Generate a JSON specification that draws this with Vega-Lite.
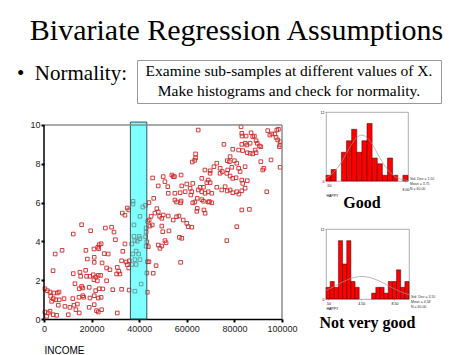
{
  "$schema": "https://vega.github.io/schema/vega-lite/v6.json",
  "background": "white",
  "padding": {"left": 17, "top": 0, "right": 0, "bottom": 0},
  "config": {"view": {"stroke": null}, "font": "Liberation Serif"},
  "datasets": {
    "scatter": [
      {"income":45650,"happy":7.27},{"income":46100,"happy":6.22},{"income":44100,"happy":6.00},{"income":42600,"happy":5.86},{"income":41500,"happy":5.77},{"income":37400,"happy":6.07},{"income":37400,"happy":5.93},{"income":35000,"happy":5.72},{"income":35600,"happy":5.62},{"income":32900,"happy":5.46},{"income":34000,"happy":5.35},{"income":40300,"happy":5.29},{"income":45000,"happy":5.29},{"income":46600,"happy":5.46},{"income":47400,"happy":5.69},{"income":48000,"happy":5.52},{"income":48600,"happy":5.29},{"income":37800,"happy":4.85},
      {"income":82800,"happy":9.91},{"income":64800,"happy":9.74},
      {"income":94000,"happy":9.71},{"income":97800,"happy":9.74},{"income":98500,"happy":9.78},{"income":95700,"happy":9.54},{"income":97000,"happy":9.54},{"income":94900,"happy":9.48},{"income":97500,"happy":9.36},{"income":98200,"happy":9.23},{"income":99200,"happy":8.97},{"income":99200,"happy":9.14},{"income":98900,"happy":8.88},
      {"income":83100,"happy":9.57},{"income":83200,"happy":9.43},{"income":84900,"happy":9.43},{"income":87000,"happy":9.60},{"income":87700,"happy":9.40},{"income":88400,"happy":9.43},
      {"income":89100,"happy":9.19},{"income":89600,"happy":9.06},{"income":90500,"happy":8.92},{"income":91100,"happy":8.88},{"income":88700,"happy":8.71},{"income":89100,"happy":8.57},{"income":87700,"happy":8.51},{"income":86600,"happy":8.54},{"income":85400,"happy":8.57},{"income":83500,"happy":8.68},{"income":81800,"happy":8.71},
      {"income":83100,"happy":9.00},{"income":85200,"happy":8.97},{"income":86600,"happy":9.06},{"income":84600,"happy":9.06},
      {"income":75600,"happy":9.00},{"income":79300,"happy":8.75},
      {"income":78200,"happy":8.37},{"income":77000,"happy":8.16},{"income":77900,"happy":8.11},{"income":80000,"happy":8.16},
      {"income":63700,"happy":8.51},{"income":63700,"happy":8.30},{"income":62300,"happy":8.09},{"income":63300,"happy":8.18},
      {"income":91100,"happy":8.11},{"income":95400,"happy":8.20},{"income":92400,"happy":7.77},{"income":91900,"happy":7.68},{"income":93600,"happy":6.56},{"income":99200,"happy":7.82},
      {"income":72600,"happy":8.03},{"income":74000,"happy":7.77},{"income":74900,"happy":7.60},{"income":77200,"happy":7.68},{"income":78900,"happy":7.82},{"income":81000,"happy":8.03},{"income":81800,"happy":7.77},{"income":82400,"happy":7.60},{"income":84500,"happy":7.85},
      {"income":71400,"happy":7.85},{"income":69800,"happy":7.64},{"income":69800,"happy":7.51},{"income":67600,"happy":7.68},{"income":74000,"happy":7.51},{"income":76800,"happy":7.51},
      {"income":80700,"happy":7.28},{"income":83100,"happy":7.16},{"income":85400,"happy":7.13},{"income":83500,"happy":6.99},
      {"income":78200,"happy":7.37},{"income":79300,"happy":7.25},
      {"income":50100,"happy":7.34},{"income":50800,"happy":7.08},{"income":53700,"happy":7.42},{"income":54300,"happy":7.34},{"income":54800,"happy":7.34},{"income":57600,"happy":7.42},
      {"income":66300,"happy":7.25},{"income":69000,"happy":7.16},{"income":69800,"happy":7.03},{"income":68400,"happy":7.03},{"income":67000,"happy":6.79},{"income":65600,"happy":6.79},
      {"income":72600,"happy":6.79},{"income":74700,"happy":6.65},{"income":76100,"happy":6.82},{"income":77000,"happy":6.60},{"income":78200,"happy":6.65},{"income":79300,"happy":6.51},{"income":81000,"happy":6.56},{"income":81900,"happy":6.44},{"income":83100,"happy":6.61},{"income":84500,"happy":6.74},
      {"income":57900,"happy":6.86},{"income":60000,"happy":6.96},{"income":62500,"happy":6.99},{"income":61400,"happy":6.74},{"income":62100,"happy":6.56},{"income":61700,"happy":6.39},{"income":59300,"happy":6.56},{"income":57200,"happy":6.51},{"income":55000,"happy":6.48},{"income":52200,"happy":6.48},{"income":52000,"happy":6.82},{"income":48000,"happy":6.86},
      {"income":64800,"happy":6.65},{"income":66300,"happy":6.56},{"income":67700,"happy":6.48},{"income":69000,"happy":6.56},{"income":70500,"happy":6.48},{"income":69500,"happy":6.05},
      {"income":55000,"happy":6.13},{"income":57400,"happy":5.99},{"income":62500,"happy":5.99},{"income":64400,"happy":5.70},{"income":67200,"happy":5.62},{"income":67700,"happy":5.45},{"income":64400,"happy":6.22},{"income":70500,"happy":5.99},{"income":83100,"happy":5.62},{"income":86300,"happy":5.65},
      {"income":55700,"happy":6.03},{"income":57600,"happy":6.08},{"income":63400,"happy":6.03},{"income":66300,"happy":6.15},{"income":67000,"happy":6.07},{"income":69000,"happy":6.03},{"income":64200,"happy":5.55},
      {"income":49500,"happy":5.19},{"income":50100,"happy":5.36},{"income":52200,"happy":5.31},{"income":54300,"happy":5.10},{"income":55700,"happy":5.27},{"income":56700,"happy":5.31},{"income":60000,"happy":4.93},{"income":62100,"happy":4.73},{"income":60600,"happy":4.76},{"income":58500,"happy":5.10},{"income":81000,"happy":4.76},
      {"income":44200,"happy":5.10},{"income":44500,"happy":4.79},{"income":45500,"happy":4.85},
      {"income":49500,"happy":4.79},{"income":49900,"happy":4.50},{"income":52500,"happy":4.54},
      {"income":42700,"happy":4.24},{"income":43200,"happy":3.98},{"income":43800,"happy":3.73},
      {"income":48000,"happy":3.81},{"income":48700,"happy":3.64},{"income":49500,"happy":3.76},{"income":50800,"happy":4.04},{"income":51300,"happy":3.93},
      {"income":56900,"happy":4.21},{"income":57900,"happy":4.16},{"income":76800,"happy":4.04},
      {"income":57400,"happy":2.92},{"income":47100,"happy":2.75},{"income":45900,"happy":2.36},{"income":43400,"happy":2.95},{"income":44100,"happy":2.95},{"income":43400,"happy":1.38},
      {"income":15800,"happy":4.86},{"income":12300,"happy":4.38},{"income":19600,"happy":4.55},{"income":25800,"happy":4.69},{"income":28400,"happy":4.73},{"income":29400,"happy":4.48},{"income":30000,"happy":4.09},
      {"income":4700,"happy":3.35},{"income":7600,"happy":3.54},
      {"income":17600,"happy":3.54},{"income":21000,"happy":3.61},{"income":22600,"happy":3.70},{"income":23200,"happy":3.83},{"income":24000,"happy":3.88},{"income":23000,"happy":3.62},
      {"income":25300,"happy":3.37},{"income":27000,"happy":3.35},
      {"income":21100,"happy":3.18},{"income":21100,"happy":2.92},{"income":24400,"happy":2.89},{"income":18200,"happy":3.09},
      {"income":3800,"happy":2.49},
      {"income":12300,"happy":2.34},{"income":15100,"happy":2.41},{"income":15400,"happy":2.20},{"income":17500,"happy":2.51},{"income":17900,"happy":2.20},
      {"income":19300,"happy":2.20},{"income":20700,"happy":2.28},{"income":21700,"happy":2.16},{"income":22800,"happy":2.25},{"income":23800,"happy":2.25},{"income":22400,"happy":1.97},{"income":21000,"happy":2.03},
      {"income":26300,"happy":2.63},{"income":27700,"happy":2.54},{"income":30800,"happy":2.66},{"income":31400,"happy":2.46},{"income":31900,"happy":2.32},{"income":30500,"happy":2.32},{"income":26300,"happy":1.97},
      {"income":13000,"happy":1.82},{"income":15800,"happy":1.68},{"income":14800,"happy":1.56},{"income":16300,"happy":1.60},{"income":19000,"happy":1.63},{"income":21700,"happy":1.46},{"income":23200,"happy":1.56},{"income":24700,"happy":1.55},{"income":28900,"happy":1.51},{"income":32600,"happy":1.53},
      {"income":16300,"happy":1.20},{"income":16700,"happy":1.12},{"income":19300,"happy":1.08},{"income":24000,"happy":1.12},{"income":21100,"happy":1.20},{"income":22800,"happy":1.08},
      {"income":400,"happy":1.56},{"income":1400,"happy":1.46},{"income":2500,"happy":1.39},{"income":4200,"happy":1.34},{"income":5600,"happy":1.34},{"income":6300,"happy":1.39},{"income":2800,"happy":1.17},{"income":3900,"happy":1.05},{"income":5000,"happy":0.99},{"income":3200,"happy":0.91},{"income":6400,"happy":0.99},{"income":8400,"happy":1.05},{"income":12100,"happy":1.05},{"income":14700,"happy":1.12},
      {"income":6000,"happy":0.71},{"income":8800,"happy":0.65},{"income":10900,"happy":0.60},{"income":12600,"happy":0.71},{"income":14000,"happy":0.77},{"income":19000,"happy":0.60},{"income":21100,"happy":0.74},{"income":22100,"happy":0.43},{"income":22800,"happy":0.36},{"income":24200,"happy":0.48},{"income":30800,"happy":0.31},
      {"income":400,"happy":0.36},{"income":1800,"happy":0.31},{"income":2500,"happy":0.40},{"income":3900,"happy":0.22},{"income":5300,"happy":0.19},{"income":10200,"happy":0.22},{"income":13400,"happy":0.48},{"income":14800,"happy":0.31},{"income":1100,"happy":0.14},
      {"income":37800,"happy":4.26},{"income":40000,"happy":4.26},{"income":38200,"happy":4.04},{"income":39200,"happy":4.01},{"income":40300,"happy":4.14},{"income":42900,"happy":3.75},{"income":36900,"happy":3.87},{"income":38700,"happy":3.50},{"income":37300,"happy":3.35},{"income":39800,"happy":3.35},{"income":38200,"happy":3.06},{"income":40300,"happy":3.06},{"income":36900,"happy":2.81},{"income":38700,"happy":2.81},{"income":43200,"happy":2.37},{"income":40800,"happy":1.80},{"income":38200,"happy":1.43},{"income":42900,"happy":4.69},{"income":43500,"happy":5.03},{"income":42900,"happy":4.48},
      {"income":35900,"happy":3.00},{"income":35600,"happy":2.63},{"income":35000,"happy":2.80},{"income":34500,"happy":2.94},{"income":32600,"happy":3.00},{"income":33100,"happy":3.49},{"income":34000,"happy":3.87},{"income":35800,"happy":1.49}
    ],
    "hist1": [
      {"bin_start":0.25,"bin_end":0.75,"count":1},{"bin_start":0.75,"bin_end":1.25,"count":2},{"bin_start":1.75,"bin_end":2.25,"count":5},{"bin_start":2.25,"bin_end":2.75,"count":7},{"bin_start":2.75,"bin_end":3.25,"count":9},{"bin_start":3.25,"bin_end":3.75,"count":5},{"bin_start":3.75,"bin_end":4.25,"count":7},{"bin_start":4.25,"bin_end":4.75,"count":10},{"bin_start":4.75,"bin_end":5.25,"count":4},{"bin_start":5.25,"bin_end":5.75,"count":3},{"bin_start":5.75,"bin_end":6.25,"count":1},{"bin_start":6.25,"bin_end":6.75,"count":4},{"bin_start":6.75,"bin_end":7.25,"count":1},{"bin_start":7.75,"bin_end":8.25,"count":1}
    ],
    "curve1": [
      {"happy":0.25,"density":0.53},{"happy":1.0,"density":1.49},{"happy":1.5,"density":2.59},{"happy":2.0,"density":4.04},{"happy":2.5,"density":5.64},{"happy":3.0,"density":7.04},{"happy":3.5,"density":7.87},{"happy":3.75,"density":7.98},{"happy":4.0,"density":7.87},{"happy":4.5,"density":7.04},{"happy":5.0,"density":5.64},{"happy":5.5,"density":4.04},{"happy":6.0,"density":2.59},{"happy":6.5,"density":1.49},{"happy":7.0,"density":0.76},{"happy":7.5,"density":0.35},{"happy":8.25,"density":0.09}
    ],
    "hist2": [
      {"bin_start":0.25,"bin_end":0.75,"count":2},{"bin_start":0.75,"bin_end":1.25,"count":3},{"bin_start":1.25,"bin_end":1.75,"count":2},{"bin_start":1.75,"bin_end":2.25,"count":10},{"bin_start":2.25,"bin_end":2.75,"count":6},{"bin_start":2.75,"bin_end":3.25,"count":10},{"bin_start":3.25,"bin_end":3.75,"count":3},{"bin_start":3.75,"bin_end":4.25,"count":2},{"bin_start":5.75,"bin_end":6.25,"count":1},{"bin_start":6.25,"bin_end":6.75,"count":2},{"bin_start":6.75,"bin_end":7.25,"count":2},{"bin_start":7.25,"bin_end":7.75,"count":1},{"bin_start":7.75,"bin_end":8.25,"count":3},{"bin_start":8.25,"bin_end":8.75,"count":3},{"bin_start":8.75,"bin_end":9.25,"count":5},{"bin_start":9.25,"bin_end":9.75,"count":2},{"bin_start":9.75,"bin_end":10.25,"count":3}
    ],
    "curve2": [
      {"happy":0.25,"density":1.45},{"happy":1.0,"density":1.98},{"happy":2.0,"density":2.73},{"happy":3.0,"density":3.39},{"happy":4.0,"density":3.79},{"happy":4.58,"density":3.86},{"happy":5.5,"density":3.69},{"happy":6.5,"density":3.19},{"happy":7.5,"density":2.48},{"happy":8.5,"density":1.73},{"happy":9.5,"density":1.10},{"happy":10.25,"density":0.73}
    ]
  },
  "spacing": 5,
  "bounds": "full",
  "vconcat": [
    {
      "width": 385,
      "height": 53.5,
      "data": {"values": [{"title": "Bivariate Regression Assumptions"}]},
      "mark": {"type": "text", "font": "Liberation Serif", "fontSize": 30, "align": "center", "baseline": "alphabetic", "dy": 13.5, "color": "black"},
      "encoding": {"text": {"field": "title"}}
    },
    {
      "spacing": 39,
      "bounds": "flush",
      "hconcat": [
        {
          "width": 54,
          "height": 43,
          "data": {"values": [{"label": "•\u2002Normality:"}]},
          "mark": {"type": "text", "font": "Liberation Serif", "fontSize": 21, "align": "left", "dx": -54, "baseline": "alphabetic", "dy": -2, "color": "black"},
          "encoding": {"text": {"field": "label"}}
        },
        {
          "width": 304,
          "height": 43,
          "view": {"stroke": "#999999", "strokeWidth": 1},
          "data": {"values": [
            {"line": 1, "text": "Examine sub-samples at different values of X."},
            {"line": 2, "text": "Make histograms and check for normality."}
          ]},
          "mark": {"type": "text", "font": "Liberation Serif", "fontSize": 15.5, "align": "center", "baseline": "alphabetic", "dy": 4.5, "color": "black"},
          "encoding": {
            "y": {"field": "line", "type": "ordinal", "axis": null, "scale": {"padding": 0.575}},
            "text": {"field": "text"}
          }
        }
      ]
    },
    {
      "spacing": 44,
      "bounds": "flush",
      "hconcat": [
        {
          "width": 238,
          "height": 207,
          "layer": [
            {
              "data": {"name": "scatter"},
              "mark": {"type": "point", "shape": "square", "filled": false, "size": 13, "strokeWidth": 0.9, "color": "#d02828", "opacity": 1},
              "encoding": {
                "x": {"field": "income", "type": "quantitative", "scale": {"domain": [0, 100000], "nice": false},
                  "axis": {"values": [0, 20000, 40000, 60000, 80000, 100000], "format": "d", "grid": false, "labelFont": "Liberation Sans", "labelFontSize": 9, "labelColor": "#222222", "labelPadding": 2, "labelFlush": false, "labelOverlap": false, "tickColor": "black", "tickSize": 3, "tickWidth": 2, "domainColor": "black", "domainWidth": 1.5, "title": "INCOME", "titleFont": "Liberation Sans", "titleFontSize": 10, "titleFontWeight": "normal", "titleColor": "black", "titleAnchor": "start", "titleAlign": "left", "titlePadding": 12}},
                "y": {"field": "happy", "type": "quantitative", "scale": {"domain": [0, 10.67], "nice": false},
                  "axis": {"values": [0, 2, 4, 6, 8, 10], "grid": false, "domain": false, "minExtent": 27, "maxExtent": 27, "labelFont": "Liberation Sans", "labelFontSize": 9, "labelColor": "#222222", "labelPadding": 1, "tickColor": "black", "tickSize": 3, "tickWidth": 2, "title": null}}
              }
            },
            {
              "data": {"values": [{"lo": 36300, "hi": 43200, "bottom": 0, "top": 10.15}]},
              "mark": {"type": "rect", "fill": "#00ffff", "fillOpacity": 0.5, "stroke": "#2e5858", "strokeWidth": 1},
              "encoding": {
                "x": {"field": "lo", "type": "quantitative"},
                "x2": {"field": "hi"},
                "y": {"field": "bottom", "type": "quantitative"},
                "y2": {"field": "top"}
              }
            },
            {
              "data": {"values": [{}]},
              "mark": {"type": "rule", "color": "#8c8c8c", "strokeWidth": 1.5},
              "encoding": {"y": {"datum": 10}}
            },
            {
              "data": {"values": [{}]},
              "mark": {"type": "rule", "color": "#8c8c8c", "strokeWidth": 1.5},
              "encoding": {"x": {"datum": 100000}, "y": {"datum": 0}, "y2": {"datum": 10}}
            },
            {
              "data": {"values": [{}]},
              "mark": {"type": "rule", "color": "black", "strokeWidth": 1.5},
              "encoding": {"x": {"datum": 0}, "y": {"datum": 0}, "y2": {"datum": 10}}
            }
          ]
        },
        {
          "spacing": 48,
          "bounds": "flush",
          "vconcat": [
            {
              "width": 82,
              "height": 69,
              "view": {"stroke": "#999999", "strokeWidth": 0.8},
              "title": {"text": "Good", "orient": "bottom", "font": "Liberation Serif", "fontSize": 16, "fontWeight": "bold", "color": "black", "anchor": "middle", "offset": -2, "dx": -5},
              "layer": [
                {
                  "data": {"name": "hist1"},
                  "mark": {"type": "rect", "fill": "#ff0000", "stroke": "#3a0000", "strokeWidth": 0.5},
                  "encoding": {
                    "x": {"field": "bin_start", "type": "quantitative", "scale": {"domain": [0.25, 8.25], "nice": false},
                      "axis": {"values": [0.5, 1, 1.5, 2, 2.5, 3, 3.5, 4, 4.5, 5, 5.5, 6, 6.5, 7, 7.5, 8], "labelExpr": "datum.value % 1 != 0 ? (datum.value < 1 ? '.50' : format(datum.value, '.2f')) : ['', format(datum.value, '.2f')]", "grid": false, "domain": false, "labelFont": "Liberation Sans", "labelFontSize": 3.5, "labelLineHeight": 4.5, "labelPadding": 1, "labelBaseline": "top", "labelOverlap": false, "labelFlush": false, "tickSize": 1, "tickWidth": 0.5, "tickColor": "#666666", "title": "HAPPY", "titleFont": "Liberation Sans", "titleFontSize": 3.5, "titleFontWeight": "normal", "titleAnchor": "start", "titleAlign": "left", "titlePadding": 2}},
                    "x2": {"field": "bin_end"},
                    "y": {"field": "count", "type": "quantitative", "scale": {"domain": [0, 12], "nice": false},
                      "axis": {"values": [0, 2, 4, 6, 8, 10, 12], "grid": false, "domain": false, "labelFont": "Liberation Sans", "labelFontSize": 3.5, "labelPadding": 1, "tickSize": 1, "tickWidth": 0.5, "tickColor": "#666666", "title": null}},
                    "y2": {"datum": 0}
                  }
                },
                {
                  "data": {"name": "curve1"},
                  "mark": {"type": "line", "color": "#9a9a9a", "strokeWidth": 0.7, "interpolate": "monotone"},
                  "encoding": {"x": {"field": "happy", "type": "quantitative"}, "y": {"field": "density", "type": "quantitative"}}
                },
                {
                  "data": {"values": [{"stats": "Std. Dev = 1.50\nMean = 3.75\nN = 60.00"}]},
                  "mark": {"type": "text", "font": "Liberation Sans", "fontSize": 3.5, "align": "left", "baseline": "bottom", "dx": 2, "lineBreak": "\n", "lineHeight": 5, "color": "#333333"},
                  "encoding": {"x": {"datum": 8.25}, "y": {"datum": 0}, "text": {"field": "stats"}}
                }
              ]
            },
            {
              "width": 83,
              "height": 70,
              "view": {"stroke": "#999999", "strokeWidth": 0.8},
              "title": {"text": "Not very good", "orient": "bottom", "font": "Liberation Serif", "fontSize": 16, "fontWeight": "bold", "color": "black", "anchor": "middle", "offset": 5},
              "layer": [
                {
                  "data": {"name": "hist2"},
                  "mark": {"type": "rect", "fill": "#ff0000", "stroke": "#3a0000", "strokeWidth": 0.5},
                  "encoding": {
                    "x": {"field": "bin_start", "type": "quantitative", "scale": {"domain": [0.25, 10.25], "nice": false},
                      "axis": {"values": [0.5, 1, 1.5, 2, 2.5, 3, 3.5, 4, 4.5, 5, 5.5, 6, 6.5, 7, 7.5, 8, 8.5, 9, 9.5, 10], "labelExpr": "datum.value % 1 != 0 ? (datum.value < 1 ? '.50' : format(datum.value, '.2f')) : ['', format(datum.value, '.2f')]", "grid": false, "domain": false, "labelFont": "Liberation Sans", "labelFontSize": 3.5, "labelLineHeight": 4.5, "labelPadding": 1, "labelBaseline": "top", "labelOverlap": false, "labelFlush": false, "tickSize": 1, "tickWidth": 0.5, "tickColor": "#666666", "title": "HAPPY", "titleFont": "Liberation Sans", "titleFontSize": 3.5, "titleFontWeight": "normal", "titleAnchor": "start", "titleAlign": "left", "titlePadding": 2}},
                    "x2": {"field": "bin_end"},
                    "y": {"field": "count", "type": "quantitative", "scale": {"domain": [0, 12], "nice": false},
                      "axis": {"values": [0, 2, 4, 6, 8, 10, 12], "grid": false, "domain": false, "labelFont": "Liberation Sans", "labelFontSize": 3.5, "labelPadding": 1, "tickSize": 1, "tickWidth": 0.5, "tickColor": "#666666", "title": null}},
                    "y2": {"datum": 0}
                  }
                },
                {
                  "data": {"name": "curve2"},
                  "mark": {"type": "line", "color": "#9a9a9a", "strokeWidth": 0.7, "interpolate": "monotone"},
                  "encoding": {"x": {"field": "happy", "type": "quantitative"}, "y": {"field": "density", "type": "quantitative"}}
                },
                {
                  "data": {"values": [{"stats": "Std. Dev = 3.10\nMean = 4.58\nN = 60.00"}]},
                  "mark": {"type": "text", "font": "Liberation Sans", "fontSize": 3.5, "align": "left", "baseline": "bottom", "dx": 2, "lineBreak": "\n", "lineHeight": 5, "color": "#333333"},
                  "encoding": {"x": {"datum": 10.25}, "y": {"datum": 0}, "text": {"field": "stats"}}
                }
              ]
            }
          ]
        }
      ]
    }
  ]
}
